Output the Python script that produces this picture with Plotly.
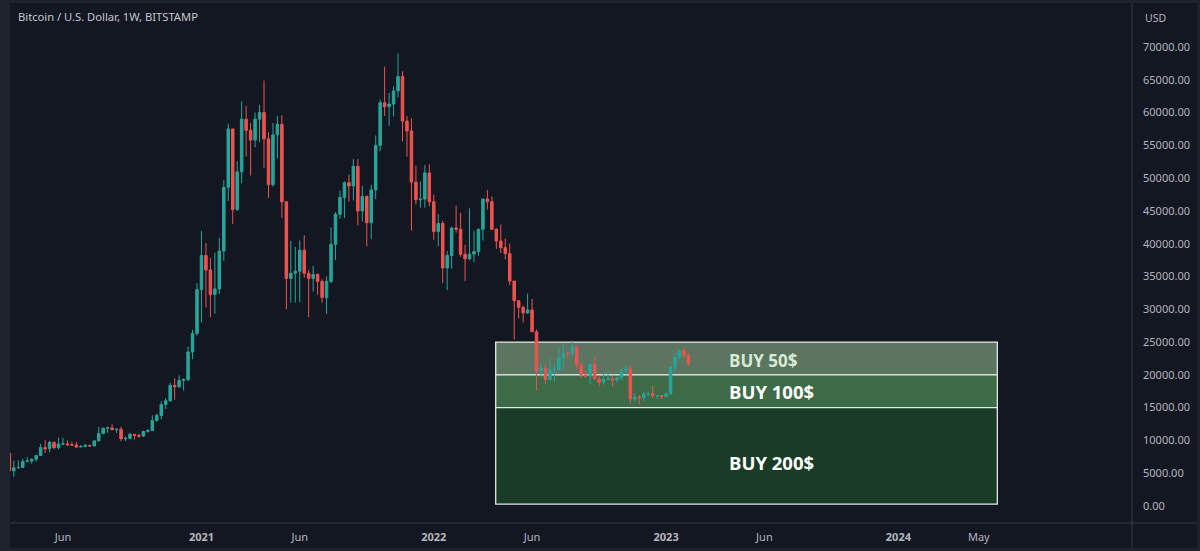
import pandas as pd
import plotly.graph_objects as go

# ---------------- data ----------------
start_week = "2020-03-09"
opens = [8030, 5360, 5830, 5880, 6780, 6860, 7120, 7700, 8900, 8730, 9700, 8900, 9450, 9470, 9340, 9300, 9000, 9070, 9250, 9160,
         9930, 11060, 11880, 11910, 11650, 11710, 10260, 10320, 10940, 10780, 10660, 11370, 11500, 13030, 13800, 15480, 16060, 18400, 18180, 19150,
         19280, 23490, 26300,
         33000, 38200, 36000, 32250, 33100, 38900, 48600, 57500, 45200, 50960, 59000, 57300, 55800, 59000, 60000, 56000, 49000, 56600,
         58200, 46400, 34700, 35500, 35800, 39000, 35500, 34700, 35300, 34250, 31800, 34250, 39900, 44500, 47050, 49300, 48800, 51800,
         45000, 47200, 43200, 48200, 55000, 61500, 60900, 61300, 63300, 65500, 58700, 57200, 49400, 46700, 46800, 50800,
         46400, 41850, 43100, 36300, 38200, 42400, 42200, 38400, 37700, 38400, 38800, 42200, 46800, 46400, 42200, 40400, 39400, 38500,
         34300, 31300, 30300, 29450, 29900, 26570, 20560, 21000, 19300, 20800, 20830, 22600, 23300, 23200, 24300, 21500, 20000, 19800,
         21600, 19400, 18900, 19300, 19400, 19200, 19570, 20630, 20900, 16300, 16600, 16500, 17100, 17120, 16800, 16840,
         16700, 17100, 21200, 22700, 23700, 23000]
highs = [8180, 6900, 6980, 7200, 7470, 7280, 7760, 9470, 10070, 9940, 9850, 10430, 10400, 9980, 9820, 9770, 9310, 9460, 9310, 10020,
         12100, 11900, 12090, 12470, 11810, 12090, 10600, 11180, 10990, 10970, 11490, 11720, 13860, 14100, 15960, 16480, 18800, 19480, 19900, 19450,
         24300, 26900, 34000,
         41950, 40100, 37800, 38600, 40900, 49700, 58300, 57500, 52600, 61700, 61000, 58400, 60000, 61200, 64900, 57000, 58400, 59500,
         59600, 46400, 40400, 39500, 40500, 41300, 36000, 36600, 35500, 34600, 35000, 42500, 44800, 48100, 49500, 50500, 52900, 52900,
         48800, 47400, 49000, 56500, 62000, 67000, 63000, 64000, 69000, 66300, 59500, 59100, 51900, 49500, 52000, 52100,
         47500, 44500, 43500, 38900, 42600, 45800, 44700, 39800, 45400, 42000, 42300, 46900, 48200, 47200, 42400, 42900, 40800, 40000,
         34300, 31400, 30600, 32400, 31600, 26900, 21900, 21500, 22500, 21600, 24200, 24700, 23600, 25200, 24500, 21900, 20600, 21900,
         22800, 19900, 20300, 20500, 19900, 19700, 21000, 21500, 21500, 17200, 16900, 17400, 17400, 18400, 16900, 16900,
         17300, 21400, 23400, 23800, 24200, 23400]
lows = [3850, 4440, 5690, 5860, 6760, 6460, 6790, 7660, 8100, 8190, 8640, 8640, 9290, 9150, 9240, 8830, 8970, 9050, 9000, 9130,
        9930, 10950, 11140, 11540, 11150, 9880, 9870, 10270, 10130, 10400, 10530, 11190, 11420, 12900, 13200, 14800, 15900, 16200, 18000, 17600,
        19000, 22400, 26000,
        28000, 30300, 28800, 29300, 32300, 37400, 46500, 43000, 45000, 49200, 53300, 50400, 54700, 55500, 51500, 47000, 48700, 53000,
        43900, 30000, 31000, 31000, 31100, 34800, 28800, 32700, 32200, 31000, 29300, 34000, 37500, 43800, 43900, 46400, 46600, 42800,
        43400, 39600, 40700, 46800, 54100, 59500, 58000, 59400, 62300, 55600, 53300, 42000, 46000, 45500, 45500, 45700,
        40600, 39600, 34000, 32900, 36200, 41700, 38000, 34300, 37500, 37200, 38100, 40500, 45200, 42100, 39200, 38600, 37600, 33700,
        25400, 28600, 28000, 29300, 26600, 17600, 19600, 18600, 19000, 18900, 20700, 20700, 22400, 22700, 20800, 19600, 19600, 18600,
        19300, 18200, 18500, 19200, 18200, 18900, 19200, 20000, 15600, 15800, 15500, 16000, 16700, 16500, 16400, 16300,
        16600, 17100, 20500, 22400, 22600, 21400]
closes = [5360, 5830, 5880, 6780, 6860, 7120, 7700, 8900, 8730, 9700, 8900, 9450, 9470, 9340, 9300, 9000, 9070, 9250, 9160, 9930,
          11060, 11880, 11910, 11650, 11710, 10260, 10320, 10940, 10780, 10660, 11370, 11500, 13030, 13800, 15480, 16060, 18400, 18180, 19150, 19280,
          23490, 26300, 33000,
          38200, 36000, 32250, 33100, 38900, 48600, 57500, 45200, 50960, 59000, 57300, 55800, 59000, 60000, 56000, 49000, 56600, 58200,
          46400, 34700, 35500, 35800, 39000, 35500, 34700, 35300, 34250, 31800, 34250, 39900, 44500, 47050, 49300, 48800, 51800, 45000,
          47200, 43200, 48200, 55000, 61500, 60900, 61300, 63300, 65500, 58700, 57200, 49400, 46700, 46800, 50800, 46400,
          41850, 43100, 36300, 38200, 42400, 42200, 38400, 37700, 38400, 38800, 42200, 46800, 46400, 42200, 40400, 39400, 38500, 34300,
          31300, 30300, 29450, 29900, 26570, 20560, 21000, 19300, 20800, 20830, 22600, 23300, 23200, 24300, 21500, 20000, 19800, 21600,
          19400, 18900, 19300, 19400, 19200, 19570, 20630, 20900, 16300, 16600, 16500, 17100, 17120, 16800, 16840, 16700,
          17100, 21200, 22700, 23700, 23000, 21700]

zone_labels = ["BUY 50$", "BUY 100$", "BUY 200$"]
zone_levels = [25000, 20000, 15000, 300]          # top of first zone ... bottom of last zone
zone_label_y = [22200, 17400, 6700]
zone_label_x = "2023-04-08"
zone_label_size = [17, 18.5, 18.5]
zone_start, zone_end = "2022-04-10", "2024-06-04"

tick_dates = ["2020-06-01", "2021-01-04", "2021-06-07", "2022-01-03", "2022-06-06",
              "2023-01-02", "2023-06-05", "2024-01-01", "2024-05-06"]
tick_texts = ["Jun", "2021", "Jun", "2022", "Jun", "2023", "Jun", "2024", "May"]
price_ticks = [0, 5000, 10000, 15000, 20000, 25000, 30000, 35000, 40000, 45000, 50000, 55000, 60000, 65000, 70000]

dates = pd.date_range(start_week, periods=len(opens), freq="W-MON")

# ---------------- style ----------------
BG = "#131722"
EDGE = "#1e222d"
LINE = "#363a45"
UP, DOWN = "#26a69a", "#ef5350"
TXT = "#b2b5be"
zone_fill = ["#5b7561", "#3d6a47", "#1a3b25"]
zone_text = ["#d6ead6", "#ffffff", "#ffffff"]

fig = go.Figure()
fig.add_trace(go.Candlestick(
    x=dates, open=opens, high=highs, low=lows, close=closes,
    increasing=dict(line=dict(color=UP, width=1), fillcolor=UP),
    decreasing=dict(line=dict(color=DOWN, width=1), fillcolor=DOWN),
    whiskerwidth=0, showlegend=False, hoverinfo="skip"))

shapes = []
for i, lab in enumerate(zone_labels):
    shapes.append(dict(type="rect", xref="x", yref="y", x0=zone_start, x1=zone_end,
                       y0=zone_levels[i + 1], y1=zone_levels[i], fillcolor=zone_fill[i],
                       line=dict(color="#e6e6e6", width=1.3), layer="below"))

# frame pieces (left strip, dividers)
W_PLOT = 1122.0
H_PLOT = 520.0
shapes += [
    dict(type="rect", xref="paper", yref="paper", x0=-10 / W_PLOT, x1=0, y0=-28 / H_PLOT, y1=1 + 3 / H_PLOT,
         fillcolor=EDGE, line=dict(width=0), layer="above"),
    dict(type="rect", xref="paper", yref="paper", x0=-10 / W_PLOT, x1=1 + 68 / W_PLOT, y0=1, y1=1 + 3 / H_PLOT,
         fillcolor=EDGE, line=dict(width=0), layer="above"),
    dict(type="rect", xref="paper", yref="paper", x0=1 + 65 / W_PLOT, x1=1 + 68 / W_PLOT, y0=-28 / H_PLOT, y1=1 + 3 / H_PLOT,
         fillcolor=EDGE, line=dict(width=0), layer="above"),
    dict(type="rect", xref="paper", yref="paper", x0=-10 / W_PLOT, x1=1 + 68 / W_PLOT, y0=-28 / H_PLOT, y1=-25 / H_PLOT,
         fillcolor=EDGE, line=dict(width=0), layer="above"),
    dict(type="line", xref="paper", yref="paper", x0=1, x1=1, y0=-25 / H_PLOT, y1=1,
         line=dict(color=LINE, width=1)),
    dict(type="line", xref="paper", yref="paper", x0=0, x1=1 + 65 / W_PLOT, y0=0, y1=0,
         line=dict(color=LINE, width=1)),
]

annotations = []
for i, lab in enumerate(zone_labels):
    annotations.append(dict(x=zone_label_x, y=zone_label_y[i], xref="x", yref="y", text="<b>" + lab + "</b>",
                            xanchor="left", showarrow=False,
                            font=dict(family="Open Sans", size=zone_label_size[i], color=zone_text[i])))
annotations.append(dict(x=6 / W_PLOT, y=1 - 4 / H_PLOT, xref="paper", yref="paper", xanchor="left", yanchor="top",
                        text="Bitcoin / U.S. Dollar, 1W, BITSTAMP", showarrow=False,
                        font=dict(family="Noto Sans", size=11.2, color="#c3c6ce")))
annotations.append(dict(x=1 + 11 / W_PLOT, y=1 - 6 / H_PLOT, xref="paper", yref="paper", xanchor="left", yanchor="top",
                        text="USD", showarrow=False, font=dict(family="Noto Sans", size=10.5, color=TXT)))

tick_disp = [("<b>" + t + "</b>") if t.isdigit() else t for t in tick_texts]

fig.update_layout(
    width=1200, height=551,
    margin=dict(l=10, r=68, t=3, b=28),
    paper_bgcolor=BG, plot_bgcolor=BG,
    boxgap=0.2,
    shapes=shapes, annotations=annotations,
    xaxis=dict(type="date", range=["2020-03-10", "2025-01-01"], rangeslider=dict(visible=False),
               tickvals=tick_dates, ticktext=tick_disp, showgrid=False, zeroline=False,
               tickfont=dict(family="Noto Sans", size=11, color=TXT), ticks="", ticklabelstandoff=6,
               showline=False),
    yaxis=dict(side="right", range=[-2593, 76710], tickvals=price_ticks,
               ticktext=[f"{v:.2f}" for v in price_ticks], showgrid=False, zeroline=False,
               tickfont=dict(family="Noto Sans", size=11, color=TXT), ticks="", ticklabelstandoff=10,
               showline=False),
    font=dict(family="Noto Sans", color=TXT),
)

fig.write_html("out.html")
